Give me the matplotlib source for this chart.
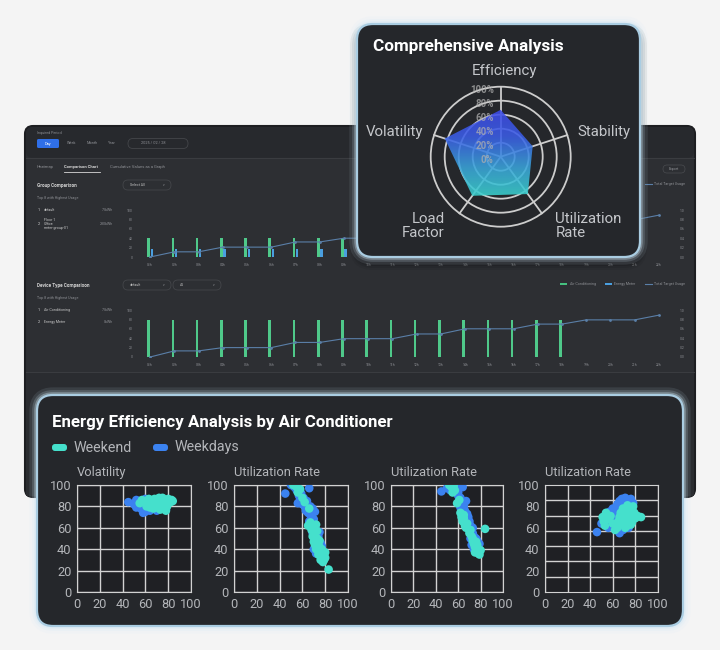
import matplotlib.pyplot as plt
import numpy as np
from matplotlib.patches import FancyBboxPatch, Rectangle, Polygon, Circle
from matplotlib.colors import LinearSegmentedColormap

plt.rcParams['font.family'] = ['Roboto', 'DejaVu Sans']

# ---- radar data ----
radar_labels = ['Efficiency', 'Stability', 'Utilization\nRate', 'Load\nFactor', 'Volatility']
radar_values = [0.67, 0.48, 0.66, 0.69, 0.84]
radar_ticks = [0, 20, 40, 60, 80, 100]

# ---- scatter data (x, y) per panel ----
panel_titles = ['Volatility', 'Utilization Rate', 'Utilization Rate', 'Utilization Rate']

wkd1_x = [55, 57, 60, 62, 63, 65, 66, 68, 69, 70, 71, 72, 73, 74, 75, 76, 77, 78, 79, 80, 81, 82, 84, 64, 67, 70, 73, 76, 79, 72, 68, 75, 78, 61, 66, 71, 74, 77, 80, 83]
wkd1_y = [83, 86, 84, 82, 87, 85, 80, 83, 86, 82, 85, 80, 87, 83, 85, 81, 86, 84, 82, 87, 85, 84, 85, 79, 78, 79, 77, 80, 80, 88, 87, 88, 76, 80, 82, 84, 79, 78, 83, 86]
wdy1_x = [45, 50, 52, 54, 55, 56, 57, 58, 59, 60, 61, 62, 63, 65, 58, 54, 60, 64, 68, 72, 76, 78, 70, 66, 52]
wdy1_y = [84, 82, 86, 80, 83, 78, 85, 76, 81, 75, 79, 77, 82, 80, 74, 85, 87, 76, 79, 78, 80, 77, 76, 83, 79]

wkd2_x = [52, 55, 56, 58, 60, 62, 66, 65, 67, 68, 70, 71, 72, 73, 70, 74, 72, 75, 76, 74, 77, 78, 79, 80, 76, 78, 83, 69, 73, 75, 77, 80, 71, 68]
wkd2_y = [100, 98, 93, 96, 88, 84, 78, 62, 65, 58, 60, 55, 63, 50, 47, 45, 40, 42, 38, 35, 33, 36, 30, 32, 30, 28, 21, 52, 57, 48, 40, 37, 44, 62]
wdy2_x = [45, 50, 53, 55, 57, 58, 56, 60, 62, 64, 66, 63, 65, 67, 68, 70, 66, 69, 71, 70, 72, 69, 71, 73, 70, 74, 75, 76, 72, 77, 74, 59, 61, 67]
wdy2_y = [92, 100, 98, 95, 90, 86, 83, 82, 80, 85, 97, 76, 74, 72, 70, 68, 66, 78, 75, 64, 58, 55, 48, 45, 40, 52, 56, 46, 36, 43, 38, 92, 88, 80]

wkd3_x = [52, 54, 56, 57, 55, 59, 61, 62, 63, 64, 65, 66, 67, 68, 70, 72, 84, 73, 74, 75, 76, 77, 78, 79, 75, 73, 77, 78, 71, 65, 80, 76]
wkd3_y = [100, 98, 99, 95, 93, 83, 86, 74, 70, 66, 72, 62, 60, 64, 55, 52, 59, 48, 45, 42, 40, 38, 36, 35, 37, 50, 44, 40, 58, 69, 39, 47]
wdy3_x = [45, 50, 53, 58, 64, 60, 62, 61, 63, 65, 64, 66, 67, 68, 62, 69, 70, 71, 72, 73, 71, 74, 75, 72, 76, 74, 77, 76, 79, 60, 66, 73]
wdy3_y = [94, 97, 95, 97, 98, 90, 88, 84, 82, 80, 78, 76, 85, 73, 79, 70, 66, 62, 58, 55, 50, 52, 46, 44, 50, 40, 48, 42, 45, 93, 70, 60]

wkd4_x = [51, 52, 53, 54, 56, 58, 60, 62, 64, 65, 66, 67, 68, 69, 70, 71, 72, 73, 74, 75, 76, 77, 78, 79, 80, 82, 85, 71, 73, 76, 77, 67, 63]
wkd4_y = [70, 66, 62, 74, 68, 71, 64, 58, 60, 66, 70, 74, 64, 78, 72, 67, 75, 62, 70, 78, 72, 65, 80, 74, 69, 71, 70, 60, 81, 63, 76, 68, 62]
wdy4_x = [46, 50, 52, 54, 55, 57, 58, 60, 62, 63, 64, 66, 67, 68, 70, 71, 72, 73, 75, 76, 77, 78, 65, 68, 60, 66, 69, 72, 74, 70, 62, 56]
wdy4_y = [56, 64, 70, 73, 67, 75, 62, 68, 72, 78, 82, 85, 80, 87, 84, 88, 82, 86, 84, 87, 80, 83, 76, 74, 78, 55, 58, 63, 60, 70, 60, 60]

weekend_x = [wkd1_x, wkd2_x, wkd3_x, wkd4_x]
weekend_y = [wkd1_y, wkd2_y, wkd3_y, wkd4_y]
weekday_x = [wdy1_x, wdy2_x, wdy3_x, wdy4_x]
weekday_y = [wdy1_y, wdy2_y, wdy3_y, wdy4_y]

# ---- background dashboard data ----
hour_labels = ['01h', '02h', '03h', '04h', '05h', '06h', '07h', '08h', '09h', '10h', '11h',
               '12h', '13h', '14h', '15h', '16h', '17h', '18h', '19h', '20h', '21h', '22h']
group_ac = [40, 40, 40, 40, 40, 40, 40, 40, 40, 40, 40, 40, 40, 40, 40, 40, 40, 40, 0, 0, 0, 0]
group_meter = [17, 17, 17, 17, 17, 17, 17, 17, 17, 17, 17, 17, 17, 17, 17, 17, 17, 17, 0, 0, 0, 0]
group_target = [0, 0.11, 0.11, 0.21, 0.21, 0.21, 0.32, 0.32, 0.40, 0.40, 0.40, 0.49, 0.49,
                0.6, 0.6, 0.6, 0.7, 0.7, 0.79, 0.79, 0.79, 0.89]
device_ac = [79, 79, 79, 79, 79, 79, 79, 79, 79, 79, 79, 79, 79, 79, 79, 79, 79, 79, 0, 0, 0, 0]
device_target = [0, 0.13, 0.13, 0.2, 0.2, 0.2, 0.31, 0.31, 0.39, 0.39, 0.39, 0.49, 0.49,
                 0.6, 0.6, 0.6, 0.7, 0.7, 0.79, 0.79, 0.79, 0.89]

W, H = 720, 650
TEAL = '#45e0cc'
BLUE = '#3b82f0'
CARD = '#25272b'

fig = plt.figure(figsize=(7.2, 6.5), dpi=100)
fig.patch.set_facecolor('#f4f4f4')


def px_axes(x0, y0, x1, y1, z):
    return fig.add_axes([x0 / W, 1 - y1 / H, (x1 - x0) / W, (y1 - y0) / H], zorder=z)


def rbox(ax, x, y, w, h, r, **kw):
    p = FancyBboxPatch((x, y), w, h, boxstyle=f'round,pad=0,rounding_size={r}', **kw)
    ax.add_patch(p)
    return p


# ================= background dashboard =================
bg = px_axes(0, 0, W, H, 0)
bg.set_xlim(0, W)
bg.set_ylim(H, 0)
bg.axis('off')

rbox(bg, 25, 126, 670, 371, 8, fc='#2d2f33', ec='#1d1e21', lw=1.5)
rbox(bg, 26, 127, 668, 31, 7, fc='#27292d', ec='none')
bg.plot([26, 694], [158, 158], color='#3a3c40', lw=0.8)
bg.plot([26, 694], [372, 372], color='#3a3c40', lw=0.8)
bg.add_patch(Rectangle((26, 373), 668, 123, fc='#2a2c30', ec='none'))

dim = '#8d8f94'
bg.text(37, 133, 'Inquired Period', fontsize=2.6, color=dim, va='center')
rbox(bg, 37, 139, 22, 9, 1.5, fc='#2f6fe8', ec='none')
bg.text(48, 143.5, 'Day', fontsize=2.8, color='white', ha='center', va='center')
for lab, xx in [('Week', 72), ('Month', 92), ('Year', 112)]:
    bg.text(xx, 143.5, lab, fontsize=2.8, color=dim, ha='center', va='center')
rbox(bg, 128, 138.5, 60, 10, 5, fc='none', ec='#44464a', lw=0.6)
bg.text(153, 143.5, '2025 / 02 / 28', fontsize=2.8, color=dim, ha='center', va='center')

bg.text(37, 167, 'Heatmap', fontsize=3, color=dim, va='center')
bg.text(64, 167, 'Comparison Chart', fontsize=3, color='#d8d8d8', va='center', weight='bold')
bg.plot([64, 100], [172, 172], color='#d8d8d8', lw=0.6)
bg.text(110, 167, 'Cumulative Values as a Graph', fontsize=3, color=dim, va='center')
rbox(bg, 663, 165, 22, 8, 4, fc='none', ec='#4a4c50', lw=0.5)
bg.text(674, 169, 'Export', fontsize=2.6, color=dim, ha='center', va='center')

for ys, title, dd in [(185, 'Group Comparison', ['Select All']), (285, 'Device Type Comparison', ['default', 'All'])]:
    bg.text(37, ys, title, fontsize=3.4, color='#d0d0d0', va='center', weight='bold')
    bg.text(37, ys + 12.5, 'Top 8 with Highest Usage', fontsize=2.6, color=dim, va='center')
    for k, lab in enumerate(dd):
        rbox(bg, 123 + k * 50, ys - 5, 48, 10, 5, fc='none', ec='#44464a', lw=0.6)
        bg.text(130 + k * 50, ys, lab, fontsize=2.6, color='#c0c0c0', va='center')
        bg.text(163 + k * 50, ys, 'v', fontsize=2.4, color=dim, va='center')

rows = [(210, '1', 'default', '71kWh'), (224, '2', 'Floor 1\nOffice\nmeter-group-01', '280kWh'),
        (310, '1', 'Air Conditioning', '71kWh'), (322, '2', 'Energy Meter', '0kWh')]
for yy, num, name, val in rows:
    bg.text(38, yy, num, fontsize=2.8, color='#d0d0d0', va='center')
    bg.text(44, yy, name, fontsize=2.6, color='#c8c8c8', va='center', linespacing=1.1)
    bg.text(113, yy, val, fontsize=2.6, color=dim, va='center', ha='right')

# legends of the dashboard charts
bg.plot([645, 652], [184, 184], color='#5a7fa8', lw=0.8)
bg.text(654, 184, 'Total Target Usage', fontsize=2.6, color=dim, va='center')
bg.add_patch(Rectangle((560, 283), 7, 2, fc='#45c07f'))
bg.text(570, 284, 'Air Conditioning', fontsize=2.6, color=dim, va='center')
bg.add_patch(Rectangle((605, 283), 7, 2, fc='#4a9fe0'))
bg.text(614, 284, 'Energy Meter', fontsize=2.6, color=dim, va='center')
bg.plot([645, 652], [284, 284], color='#5a7fa8', lw=0.8)
bg.text(654, 284, 'Total Target Usage', fontsize=2.6, color=dim, va='center')

hours = np.arange(1, len(hour_labels) + 1)
for (yy0, yy1), ac, meter, target in [((210, 257), group_ac, group_meter, group_target),
                                      ((310, 357), device_ac, None, device_target)]:
    ax = px_axes(138, yy0, 671, yy1, 1)
    ax.set_facecolor('none')
    ax.bar(hours - 0.06, ac, width=0.11, color='#4fc98a')
    if meter is not None:
        ax.bar(hours + 0.07, meter, width=0.1, color='#4a9fe0')
    ax.set_xlim(0.5, len(hours) + 0.5)
    ax.set_ylim(0, 100)
    ax.set_xticks(hours)
    ax.set_xticklabels(hour_labels)
    ax.set_yticks([0, 20, 40, 60, 80, 100])
    ax.tick_params(colors=dim, labelsize=2.4, length=0, pad=4)
    for s in ax.spines.values():
        s.set_visible(False)
    ax.axhline(0, color='#45474b', lw=0.5)
    ax2 = ax.twinx()
    ax2.plot(hours, target, color='#5a7fa8', lw=0.8, marker='o', ms=1)
    ax2.set_ylim(0, 1)
    ax2.set_yticks([0, 0.2, 0.4, 0.6, 0.8, 1])
    ax2.tick_params(colors=dim, labelsize=2.4, length=0, pad=6)
    for s in ax2.spines.values():
        s.set_visible(False)

# ================= cards overlay =================
ov = px_axes(0, 0, W, H, 2)
ov.set_xlim(0, W)
ov.set_ylim(H, 0)
ov.axis('off')
ov.patch.set_alpha(0)

# shadow under the radar card
for k, a in [(14, 0.06), (10, 0.08), (6, 0.1)]:
    rbox(ov, 357 - k / 2, 30 - k / 2, 283 + k, 233 + k, 16 + k / 2, fc='black', ec='none', alpha=a)

for (x, y, w, h) in [(357, 24, 283, 233), (37, 395, 646, 231)]:
    for lw, a in [(11, 0.10), (7, 0.18), (4, 0.35)]:
        rbox(ov, x, y, w, h, 16, fc='none', ec='#cfe7f5', lw=lw, alpha=a)
    rbox(ov, x, y, w, h, 16, fc=CARD, ec='#aacde2', lw=1.6)

ov.text(373, 46, 'Comprehensive Analysis', fontsize=12.3, color='white', weight='bold', va='center')
ov.text(52, 422, 'Energy Efficiency Analysis by Air Conditioner', fontsize=12.2, color='white',
        weight='bold', va='center')
for x0, col, lab in [(52, TEAL, 'Weekend'), (153, BLUE, 'Weekdays')]:
    rbox(ov, x0, 444, 15, 7, 3, fc=col, ec='none')
    ov.text(x0 + 22, 447.5, lab, fontsize=10.3, color='#b4b6ba', va='center')

# ================= radar =================
R = 70.0
cx, cy = 500.7, 156.7
rx = px_axes(cx - 80, cy - 80, cx + 80, cy + 80, 3)
rx.axis('off')
ang = np.deg2rad(90 - 72 * np.arange(len(radar_values)))
for t in radar_ticks[1:]:
    rx.add_patch(Circle((0, 0), t / 100, fill=False, ec='#cdcdcd', lw=1.3, zorder=1))
for a in ang:
    rx.plot([0, np.cos(a)], [0, np.sin(a)], color='#cdcdcd', lw=1.3, zorder=1)
vals = np.array(radar_values)
poly = Polygon(np.column_stack([vals * np.cos(ang), vals * np.sin(ang)]), closed=True,
               fc='none', ec='none')
rx.add_patch(poly)
cmap = LinearSegmentedColormap.from_list('rad', ['#3ad6cc', '#3aa6da', '#3b5ee6', '#3d47e8'])
grad = np.linspace(0, 1, 256).reshape(-1, 1)
im = rx.imshow(grad, extent=(-1, 1, -0.6, 0.72), origin='lower', cmap=cmap, aspect='auto',
               alpha=0.88, zorder=2)
im.set_clip_path(poly)
for t in radar_ticks:
    rx.text(-0.1, t / 100 - 0.05, f'{t}%', fontsize=7, color='#b0b0b0', alpha=0.75,
            ha='right', va='center', weight='bold', zorder=4)
lab_pos = [(0.06, 1.23, 'center'), (1.1, 0.35, 'left'), (0.78, -0.99, 'left'),
           (-0.8, -0.99, 'right'), (-1.11, 0.35, 'right')]
for (lx, ly, ha), lab in zip(lab_pos, radar_labels):
    rx.text(lx, ly, lab, fontsize=10.8, color='#c4c6ca', ha=ha, va='center',
            multialignment=ha if ha != 'center' else 'center', linespacing=1.05, clip_on=False)
rx.set_xlim(-80 / R, 80 / R)
rx.set_ylim(-80 / R, 80 / R)

# ================= scatter panels =================
boxes = [(77, 191), (234, 348), (391, 503), (545, 658)]
for i, (x0, x1) in enumerate(boxes):
    ax = px_axes(x0, 485, x1, 592, 3)
    ax.set_facecolor('#1f2024')
    ax.scatter(weekday_x[i], weekday_y[i], s=38, color=BLUE, edgecolors='none', zorder=3)
    ax.scatter(weekend_x[i], weekend_y[i], s=38, color=TEAL, edgecolors='none', zorder=3)
    ax.set_xlim(0, 100)
    ax.set_ylim(0, 100)
    ax.set_xticks([0, 20, 40, 60, 80, 100])
    ax.set_yticks([0, 20, 40, 60, 80, 100])
    ax.tick_params(colors='#b4b6ba', labelsize=9.2, length=0, pad=4)
    if i == 3:
        ax.set_yticks(np.linspace(0, 100, 8), minor=True)
        ax.tick_params(which='minor', length=0)
        ax.grid(True, axis='x', color='#d2d2d2', lw=1)
        ax.grid(True, axis='y', which='minor', color='#d2d2d2', lw=1)
    else:
        ax.grid(True, color='#d2d2d2', lw=1)
    ax.set_axisbelow(True)
    for s in ax.spines.values():
        s.set_color('#d2d2d2')
    ax.text(0, 1.06, panel_titles[i], transform=ax.transAxes, fontsize=9.3, color='#b4b6ba',
            ha='left', va='bottom')

fig.savefig('out.png', dpi=100, facecolor=fig.get_facecolor())
